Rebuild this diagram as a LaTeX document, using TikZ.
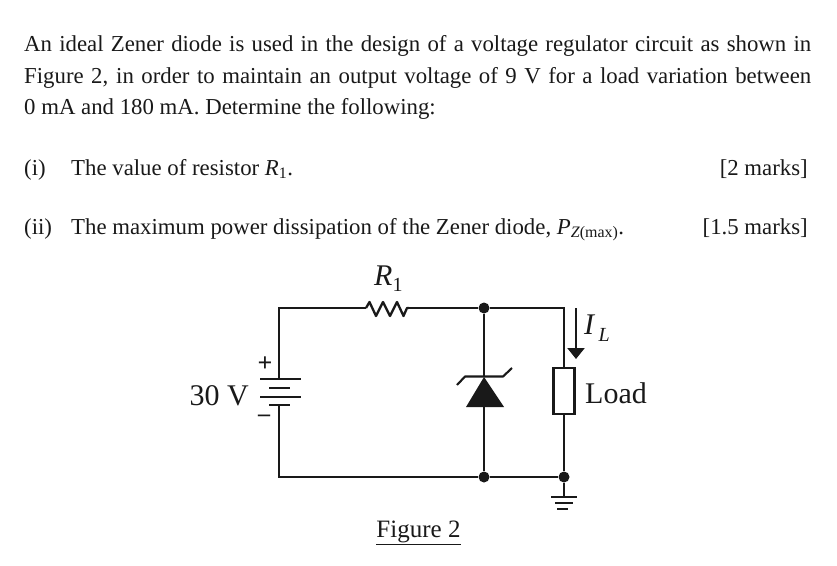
\documentclass[tikz,border=0pt]{standalone}
\usepackage{fontspec}
\setmainfont{Liberation Serif}
\usetikzlibrary{arrows.meta,positioning,calc}
\definecolor{inkgray}{RGB}{25,25,25}

\begin{document}
\begin{tikzpicture}[
    x=1pt, y=-1pt,
    wire/.style={draw=inkgray, line width=2.3pt},
    plate/.style={draw=inkgray, line width=2.1pt},
    dot/.style={circle, fill=inkgray, inner sep=0pt, minimum size=11pt},
    para/.style={anchor=north west, inner sep=0pt, text width=787pt, align=justify, text=inkgray, font=\fontsize{22.8}{31.5}\selectfont},
    question/.style={anchor=base west, inner sep=0pt, text=inkgray, font=\fontsize{22.8}{30}\selectfont},
    marks/.style={anchor=base east, inner sep=0pt, text=inkgray, font=\fontsize{22.8}{30}\selectfont},
    symb/.style={inner sep=0pt, text=inkgray, font=\fontsize{30}{34}\selectfont},
    loadbox/.style={rectangle, draw=inkgray, line width=2.2pt, fill=white, minimum width=21pt, minimum height=46pt, inner sep=0pt},
    arrow/.style={-{Triangle[length=11pt,width=17pt]}, draw=inkgray, fill=inkgray, line width=2.3pt}
]
\useasboundingbox (0,0) rectangle (837,565);
\fill[white] (0,0) rectangle (837,565);

% Question text
\node[para] (intro) at (24,35.5) {An ideal Zener diode is used in the design of a voltage regulator circuit as shown in\linebreak Figure 2, in order to maintain an output voltage of 9 V for a load variation between\linebreak 0 mA and 180 mA. Determine the following:};

\node[question] (qone) at (24,175) {(i)};
\node[question] (qonetext) at (71,175) {The value of resistor \textit{R}\textsubscript{1}.};
\node[marks] (mone) at (808,175) {[2 marks]};

\node[question] (qtwo) at (24,234) {(ii)};
\node[question] (qtwotext) at (71,234) {The maximum power dissipation of the Zener diode, \textit{P}\textsubscript{\textit{Z}(max)}.};
\node[marks] (mtwo) at (808,234) {[1.5 marks]};

% Corners and junctions
\coordinate (tl) at (279,308);
\coordinate (bl) at (279,477);
\coordinate (tr) at (564,308);
\coordinate (rleft) at (366,308);
\coordinate (rright) at (409,308);
\coordinate (batplus) at (279,379);
\coordinate (batminus) at (279,405);
\coordinate (zcath) at (484,377);
\coordinate (zanode) at (484,407);
\coordinate (gnd) at (564,497);
\node[dot] (jtop) at (484,308) {};
\node[dot] (jbot) at (484,477) {};
\node[dot] (jload) at (564,477) {};
\node[loadbox] (load) at (564,391) {};

% Wires
\draw[wire] (batplus) -- (tl) -- (rleft);
\draw[wire, line join=round] (rleft) -- ++(3.5,-6) -- ++(6.5,14) -- ++(7,-14) -- ++(7,14) -- ++(7,-14) -- ++(6.5,14) -- ++(3.5,-8) -- (rright);
\draw[wire] (rright) -- (jtop) -- (tr) -- (load.north);
\draw[wire] (batminus) -- (bl) -- (jbot) -- (jload);
\draw[wire] (load.south) -- (jload) -- (gnd);
\draw[wire] (jtop) -- (zcath);
\draw[wire] (zanode) -- (jbot);

% Battery
\draw[plate] (260,379) -- (301,379);
\draw[plate] (269,388) -- (290,388);
\draw[plate] (260,397) -- (301,397);
\draw[plate] (269,405) -- (290,405);

% Zener diode
\fill[inkgray] (zcath) -- (504,407) -- (466,407) -- cycle;
\draw[plate, line join=round] (457,385) -- (465,376.5) -- (503,376.5) -- (512,368);

% Ground
\draw[plate] (551,497) -- (577,497);
\draw[plate] (555,503) -- (573,503);
\draw[plate] (557,509) -- (568,509);

% Current arrow
\coordinate (iltop) at (576,308);
\coordinate (ilend) at (576,359);
\draw[arrow] (iltop) -- (ilend);

% Labels
\node[symb, anchor=base west] (rlabel) at (374,285) {\textit{R}\raisebox{-0.22em}{\fontsize{20}{20}\selectfont 1}};
\node[symb, anchor=base west] (illabel) at (584,334) {\textit{I}\raisebox{-0.25em}{\fontsize{20}{20}\selectfont\,\textit{L}}};
\node[symb, anchor=base west] (loadlabel) at (585,403) {Load};
\node[symb, anchor=base east] (vlabel) at (249,405) {30 V};
\node[inner sep=0pt, text=inkgray, font=\fontsize{26}{26}\selectfont\bfseries] (plus) at (265,364) {+};
\node[inner sep=0pt, text=inkgray, font=\fontsize{24}{24}\selectfont\bfseries] (minus) at (264,418) {–};
\node[anchor=base, inner sep=0pt, text=inkgray, font=\fontsize{25}{30}\selectfont] (figlabel) at (418.5,537) {\underline{Figure 2}};
\end{tikzpicture}
\end{document}
